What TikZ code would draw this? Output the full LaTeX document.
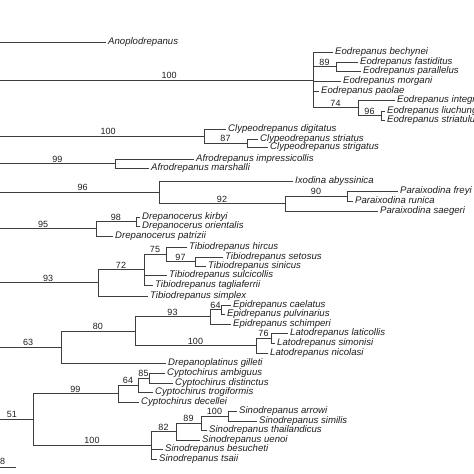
\documentclass[tikz,border=0pt]{standalone}
\usepackage{fontspec}
\setmainfont{Liberation Sans}
\definecolor{treegray}{RGB}{62,62,62}
\definecolor{labelgray}{RGB}{30,30,30}
\tikzset{
  branch/.style={draw=treegray,line width=0.8pt},
  taxon/.style={anchor=west,inner xsep=2pt,inner ysep=0pt,text height=7pt,text depth=2pt,
                font=\fontsize{9.6}{10}\selectfont\itshape,text=labelgray},
  boot/.style={above,inner sep=1pt,font=\fontsize{9}{10}\selectfont,text=labelgray},
}
\begin{document}
\begin{tikzpicture}[x=1pt,y=-1pt]
  \useasboundingbox (0,0) rectangle (474,474);
  \clip (0,0) rectangle (474,474);

  % terminal taxa
  \node[taxon] (anopl) at (106,42) {Anoplodrepanus};
  \node[taxon] (bech) at (333,52) {Eodrepanus bechynei};
  \node[taxon] (fast) at (358,62) {Eodrepanus fastiditus};
  \node[taxon] (para) at (361,71) {Eodrepanus parallelus};
  \node[taxon] (morg) at (341,81) {Eodrepanus morgani};
  \node[taxon] (paol) at (319,91) {Eodrepanus paolae};
  \node[taxon] (inte) at (395,100) {Eodrepanus integriceps};
  \node[taxon] (liuc) at (385,111) {Eodrepanus liuchungloi};
  \node[taxon] (stri) at (385,120) {Eodrepanus striatulus};
  \node[taxon] (digi) at (226,129) {Clypeodrepanus digitatus};
  \node[taxon] (stria) at (258,139) {Clypeodrepanus striatus};
  \node[taxon] (strig) at (268,147) {Clypeodrepanus strigatus};
  \node[taxon] (impr) at (194,159) {Afrodrepanus impressicollis};
  \node[taxon] (mars) at (149,168) {Afrodrepanus marshalli};
  \node[taxon] (abys) at (293,181) {Ixodina abyssinica};
  \node[taxon] (frey) at (398,191) {Paraixodina freyi};
  \node[taxon] (runi) at (353,201) {Paraixodina runica};
  \node[taxon] (saeg) at (378,211) {Paraixodina saegeri};
  \node[taxon] (kirb) at (140,217) {Drepanocerus kirbyi};
  \node[taxon] (orie) at (140,226) {Drepanocerus orientalis};
  \node[taxon] (patr) at (113,236) {Drepanocerus patrizii};
  \node[taxon] (hirc) at (187,247) {Tibiodrepanus hircus};
  \node[taxon] (seto) at (223,257) {Tibiodrepanus setosus};
  \node[taxon] (sini) at (206,266) {Tibiodrepanus sinicus};
  \node[taxon] (sulc) at (167,275) {Tibiodrepanus sulcicollis};
  \node[taxon] (tagl) at (153,285) {Tibiodrepanus tagliaferrii};
  \node[taxon] (simp) at (148,296) {Tibiodrepanus simplex};
  \node[taxon] (cael) at (231,305) {Epidrepanus caelatus};
  \node[taxon] (pulv) at (225,314) {Epidrepanus pulvinarius};
  \node[taxon] (schi) at (231,324) {Epidrepanus schimperi};
  \node[taxon] (lati) at (288,333) {Latodrepanus laticollis};
  \node[taxon] (simo) at (275,343) {Latodrepanus simonisi};
  \node[taxon] (nico) at (268,353) {Latodrepanus nicolasi};
  \node[taxon] (gill) at (166,363) {Drepanoplatinus gilleti};
  \node[taxon] (ambi) at (165,373) {Cyptochirus ambiguus};
  \node[taxon] (dist) at (173,383) {Cyptochirus distinctus};
  \node[taxon] (trog) at (153,392) {Cyptochirus trogiformis};
  \node[taxon] (dece) at (139,402) {Cyptochirus decellei};
  \node[taxon] (arro) at (237,411) {Sinodrepanus arrowi};
  \node[taxon] (simi) at (257,421) {Sinodrepanus similis};
  \node[taxon] (thai) at (207,430) {Sinodrepanus thailandicus};
  \node[taxon] (ueno) at (200,440) {Sinodrepanus uenoi};
  \node[taxon] (besu) at (163,449) {Sinodrepanus besucheti};
  \node[taxon] (tsai) at (157,459) {Sinodrepanus tsaii};

  % internal nodes
  \coordinate (eo) at (313,79.9);
  \coordinate (eo89) at (336,66.5);
  \coordinate (eo74) at (358,107.8);
  \coordinate (eo96) at (381,115.5);
  \coordinate (cl) at (204,136);
  \coordinate (cl87) at (247,143);
  \coordinate (af) at (115,163.5);
  \coordinate (ix) at (159,192.3);
  \coordinate (ix92) at (285,203.5);
  \coordinate (ix90) at (347,196);
  \coordinate (dr) at (96,228.8);
  \coordinate (dr98) at (136,221.5);
  \coordinate (ti) at (98,282.8);
  \coordinate (ti72) at (144,269.6);
  \coordinate (ti75) at (166,254.3);
  \coordinate (ti97) at (195,261.5);
  \coordinate (ep63) at (61,347.1);
  \coordinate (ep80) at (135,331.1);
  \coordinate (ep93) at (210,316.8);
  \coordinate (ep64) at (221,309.5);
  \coordinate (la100) at (256,345.5);
  \coordinate (la76) at (271,338);
  \coordinate (cy51) at (33,419.4);
  \coordinate (cy99) at (118,393.5);
  \coordinate (cy64) at (138,385);
  \coordinate (cy85) at (149,378);
  \coordinate (si100) at (151,445.3);
  \coordinate (si82) at (176,431.5);
  \coordinate (si89) at (201,423);
  \coordinate (si100b) at (228,416);

  % stems leaving the left edge
  \coordinate (r-anopl) at (0,42);
  \coordinate (r-eo) at (0,79.9);
  \coordinate (r-cl) at (0,136);
  \coordinate (r-af) at (0,163.5);
  \coordinate (r-ix) at (0,192.3);
  \coordinate (r-dr) at (0,228.8);
  \coordinate (r-ti) at (0,282.8);
  \coordinate (r-ep) at (0,347.1);
  \coordinate (r-cy) at (0,419.4);

  \draw[branch] (r-anopl) -- (anopl.west);

  \draw[branch] (r-eo) -- (eo) node[boot,pos=0.54]{100};
  \draw[branch] (eo) |- (bech.west);
  \draw[branch] (eo) |- (eo89) node[boot,pos=0.75]{89};
  \draw[branch] (eo89) |- (fast.west);
  \draw[branch] (eo89) |- (para.west);
  \draw[branch] (eo) |- (morg.west);
  \draw[branch] (eo) |- (paol.west);
  \draw[branch] (eo) |- (eo74) node[boot,pos=0.75]{74};
  \draw[branch] (eo74) |- (inte.west);
  \draw[branch] (eo74) |- (eo96) node[boot,pos=0.75]{96};
  \draw[branch] (eo96) |- (liuc.west);
  \draw[branch] (eo96) |- (stri.west);

  \draw[branch] (r-cl) -- (cl) node[boot,pos=0.53]{100};
  \draw[branch] (cl) |- (digi.west);
  \draw[branch] (cl) |- (cl87) node[boot,pos=0.75]{87};
  \draw[branch] (cl87) |- (stria.west);
  \draw[branch] (cl87) |- (strig.west);

  \draw[branch] (r-af) -- (af) node[boot,pos=0.5]{99};
  \draw[branch] (af) |- (impr.west);
  \draw[branch] (af) |- (mars.west);

  \draw[branch] (r-ix) -- (ix) node[boot,pos=0.52]{96};
  \draw[branch] (ix) |- (abys.west);
  \draw[branch] (ix) |- (ix92) node[boot,pos=0.75]{92};
  \draw[branch] (ix92) |- (ix90) node[boot,pos=0.75]{90};
  \draw[branch] (ix90) |- (frey.west);
  \draw[branch] (ix90) |- (runi.west);
  \draw[branch] (ix92) |- (saeg.west);

  \draw[branch] (r-dr) -- (dr) node[boot,pos=0.45]{95};
  \draw[branch] (dr) |- (dr98) node[boot,pos=0.75]{98};
  \draw[branch] (dr98) |- (kirb.west);
  \draw[branch] (dr98) |- (orie.west);
  \draw[branch] (dr) |- (patr.west);

  \draw[branch] (r-ti) -- (ti) node[boot,pos=0.49]{93};
  \draw[branch] (ti) |- (ti72) node[boot,pos=0.75]{72};
  \draw[branch] (ti72) |- (ti75) node[boot,pos=0.75]{75};
  \draw[branch] (ti75) |- (hirc.west);
  \draw[branch] (ti75) |- (ti97) node[boot,pos=0.75]{97};
  \draw[branch] (ti97) |- (seto.west);
  \draw[branch] (ti97) |- (sini.west);
  \draw[branch] (ti72) |- (sulc.west);
  \draw[branch] (ti72) |- (tagl.west);
  \draw[branch] (ti) |- (simp.west);

  \draw[branch] (r-ep) -- (ep63) node[boot,pos=0.46]{63};
  \draw[branch] (ep63) |- (ep80) node[boot,pos=0.75]{80};
  \draw[branch] (ep80) |- (ep93) node[boot,pos=0.75]{93};
  \draw[branch] (ep93) |- (ep64) node[boot,pos=0.75]{64};
  \draw[branch] (ep64) |- (cael.west);
  \draw[branch] (ep64) |- (pulv.west);
  \draw[branch] (ep93) |- (schi.west);
  \draw[branch] (ep80) |- (la100) node[boot,pos=0.75]{100};
  \draw[branch] (la100) |- (la76) node[boot,pos=0.75]{76};
  \draw[branch] (la76) |- (lati.west);
  \draw[branch] (la76) |- (simo.west);
  \draw[branch] (la100) |- (nico.west);
  \draw[branch] (ep63) |- (gill.west);

  \draw[branch] (r-cy) -- (cy51) node[boot,pos=0.36]{51};
  \draw[branch] (cy51) |- (cy99) node[boot,pos=0.75]{99};
  \draw[branch] (cy99) |- (cy64) node[boot,pos=0.75]{64};
  \draw[branch] (cy64) |- (cy85) node[boot,pos=0.75]{85};
  \draw[branch] (cy85) |- (ambi.west);
  \draw[branch] (cy85) |- (dist.west);
  \draw[branch] (cy64) |- (trog.west);
  \draw[branch] (cy99) |- (dece.west);
  \draw[branch] (cy51) |- (si100) node[boot,pos=0.75]{100};
  \draw[branch] (si100) |- (si82) node[boot,pos=0.75]{82};
  \draw[branch] (si82) |- (si89) node[boot,pos=0.75]{89};
  \draw[branch] (si89) |- (si100b) node[boot,pos=0.75]{100};
  \draw[branch] (si100b) |- (arro.west);
  \draw[branch] (si100b) |- (simi.west);
  \draw[branch] (si89) |- (thai.west);
  \draw[branch] (si82) |- (ueno.west);
  \draw[branch] (si100) |- (besu.west);
  \draw[branch] (si100) |- (tsai.west);

  % scale bar
  \coordinate (sb0) at (0,467);
  \coordinate (sb1) at (16,467);
  \draw[branch] (sb0) -- (sb1);
  \node[boot,anchor=south west,inner sep=0pt] (sblabel) at (0,465) {8};
\end{tikzpicture}
\end{document}
